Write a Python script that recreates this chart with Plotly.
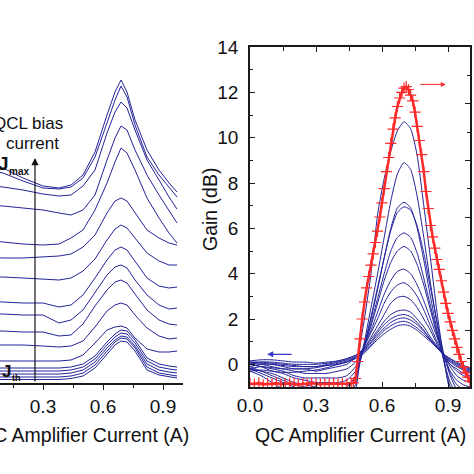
import plotly.graph_objects as go

# ---------------- Left panel (offset transmission curves, arb. units) ----------------
left_x = [0.0, 0.1, 0.2, 0.3, 0.38, 0.44, 0.5, 0.56, 0.62, 0.66, 0.69, 0.72, 0.76, 0.82, 0.88, 0.93, 0.97]
left_A = [21.8, 21.5, 20.5, 19.7, 19.5, 19.8, 20.8, 23.1, 26.8, 29.1, 30.3, 29.1, 26.3, 23.3, 21.3, 20.0, 19.1]
left_B = [21.3, 21.0, 20.2, 19.5, 19.4, 19.6, 20.5, 22.6, 26.0, 28.3, 29.7, 28.6, 25.8, 22.6, 20.8, 19.6, 18.6]
left_C = [19.8, 19.6, 19.3, 18.9, 18.7, 18.8, 19.7, 21.3, 25.0, 27.1, 28.1, 27.5, 25.3, 22.3, 20.3, 18.6, 17.4]
left_D = [17.8, 17.7, 17.5, 17.3, 17.0, 16.8, 17.3, 18.8, 22.3, 24.5, 25.7, 25.3, 23.3, 20.8, 18.8, 17.3, 16.0]
left_E = [14.3, 14.1, 13.9, 13.8, 13.9, 14.5, 15.3, 17.3, 20.0, 22.1, 23.5, 23.0, 21.3, 18.5, 16.5, 15.0, 14.0]
left_F = [12.6, 12.5, 12.5, 12.6, 12.7, 12.9, 13.6, 14.8, 17.0, 18.2, 18.5, 18.2, 17.0, 15.3, 14.5, 14.0, 13.8]
left_G = [10.6, 10.6, 10.5, 10.4, 10.3, 10.5, 11.2, 12.4, 14.3, 15.4, 15.8, 15.5, 14.5, 13.0, 12.2, 11.8, 11.8]
left_H = [8.2, 8.1, 8.0, 8.0, 7.6, 7.8, 8.8, 10.5, 12.3, 13.3, 13.6, 13.3, 12.2, 10.5, 9.7, 9.5, 9.6]
left_I = [6.9, 6.9, 6.8, 6.8, 6.0, 6.3, 7.3, 9.1, 10.8, 11.6, 11.8, 11.5, 10.3, 8.8, 7.8, 7.4, 7.5]
left_J = [5.2, 5.2, 5.1, 5.1, 4.7, 4.8, 5.9, 7.7, 9.3, 10.1, 10.3, 10.0, 8.9, 7.3, 6.3, 5.9, 5.8]
left_K = [3.8, 3.8, 3.8, 3.7, 3.6, 3.7, 4.2, 5.6, 7.2, 7.8, 8.0, 7.8, 6.8, 5.5, 4.7, 4.4, 4.5]
left_L = [2.2, 2.2, 2.2, 2.2, 2.2, 2.3, 2.8, 4.0, 5.3, 5.6, 5.7, 5.5, 4.5, 3.4, 3.1, 3.1, 3.2]
left_M1 = [1.5, 1.5, 1.5, 1.5, 1.5, 1.6, 1.9, 2.7, 4.1, 4.9, 5.3, 5.2, 4.3, 2.5, 1.9, 1.7, 1.6]
left_M2 = [1.2, 1.2, 1.2, 1.2, 1.2, 1.3, 1.6, 2.4, 3.8, 4.6, 5.0, 4.9, 4.0, 2.2, 1.6, 1.4, 1.3]
left_M3 = [0.9, 0.9, 0.9, 0.9, 0.9, 1.0, 1.3, 2.1, 3.5, 4.3, 4.7, 4.6, 3.7, 1.9, 1.3, 1.1, 1.0]
left_M4 = [0.6, 0.6, 0.6, 0.6, 0.6, 0.7, 1.0, 1.8, 3.2, 4.1, 4.5, 4.4, 3.5, 1.6, 1.0, 0.8, 0.7]
left_M5 = [0.35, 0.35, 0.35, 0.35, 0.35, 0.45, 0.7, 1.5, 2.9, 3.8, 4.2, 4.1, 3.2, 1.3, 0.8, 0.6, 0.5]
left_curves = [left_A, left_B, left_C, left_D, left_E, left_F, left_G, left_H, left_I,
               left_J, left_K, left_L, left_M1, left_M2, left_M3, left_M4, left_M5]

# ---------------- Right panel: gain (dB) ----------------
gain_x = [0.0, 0.05, 0.1, 0.15, 0.2, 0.25, 0.3, 0.35, 0.4, 0.44, 0.48, 0.5, 0.52, 0.55, 0.58,
          0.61, 0.64, 0.67, 0.7, 0.73, 0.76, 0.79, 0.82, 0.85, 0.88, 0.91, 0.94, 0.97, 1.0]
gain_1 = [-0.3, -0.5, -0.8, -1.1, -1.3, -1.4, -1.5, -1.5, -1.5, -1.5, -1.1, 0.8, 2.0, 4.0, 6.6, 8.2, 9.4, 10.3, 10.7, 10.4, 9.2, 7.0, 4.7, 2.3, 0.3, -1.2, -1.6, -1.6, -1.6]
gain_2 = [-0.2, -0.4, -0.6, -0.8, -1.0, -1.2, -1.3, -1.4, -1.4, -1.3, -0.9, 0.1, 1.0, 2.5, 4.0, 5.6, 7.2, 8.4, 8.9, 8.6, 7.4, 5.6, 3.6, 1.8, 0.2, -1.0, -1.5, -1.5, -1.5]
gain_3 = [-0.2, -0.3, -0.5, -0.7, -0.9, -1.0, -1.1, -1.2, -1.2, -1.1, -0.6, 0.1, 0.8, 2.0, 3.3, 4.7, 6.0, 6.9, 7.15, 6.9, 6.0, 4.6, 3.0, 1.5, 0.2, -0.8, -1.3, -1.4, -1.4]
gain_4 = [-0.1, -0.3, -0.4, -0.6, -0.8, -0.9, -1.0, -1.1, -1.1, -1.0, -0.5, 0.2, 0.9, 2.1, 3.4, 4.7, 5.9, 6.7, 6.95, 6.8, 6.1, 4.9, 3.4, 1.9, 0.5, -0.5, -1.1, -1.3, -1.3]
gain_5 = [0.0, -0.1, -0.3, -0.4, -0.6, -0.7, -0.8, -0.8, -0.8, -0.7, -0.3, 0.2, 0.8, 1.8, 2.9, 4.0, 5.0, 5.6, 5.8, 5.6, 4.9, 3.8, 2.6, 1.4, 0.4, -0.4, -0.9, -1.1, -1.1]
gain_6 = [0.0, -0.1, -0.2, -0.3, -0.5, -0.6, -0.6, -0.6, -0.6, -0.5, -0.1, 0.3, 0.8, 1.7, 2.7, 3.7, 4.5, 5.0, 5.2, 5.0, 4.4, 3.5, 2.4, 1.3, 0.4, -0.3, -0.7, -0.9, -1.0]
gain_7 = [0.05, 0.0, -0.1, -0.2, -0.3, -0.4, -0.4, -0.4, -0.3, -0.2, 0.1, 0.4, 0.8, 1.5, 2.3, 3.1, 3.7, 4.1, 4.2, 4.0, 3.5, 2.8, 2.0, 1.2, 0.4, -0.1, -0.5, -0.7, -0.8]
gain_8 = [0.1, 0.05, 0.0, -0.1, -0.2, -0.2, -0.3, -0.2, -0.1, 0.0, 0.3, 0.5, 0.8, 1.4, 2.0, 2.7, 3.2, 3.5, 3.6, 3.4, 3.0, 2.4, 1.7, 1.0, 0.4, 0.0, -0.3, -0.5, -0.6]
gain_9 = [0.1, 0.1, 0.05, 0.0, -0.05, -0.1, -0.1, -0.05, 0.0, 0.1, 0.3, 0.5, 0.7, 1.2, 1.7, 2.2, 2.7, 2.95, 3.0, 2.85, 2.5, 2.0, 1.5, 0.9, 0.4, 0.0, -0.2, -0.4, -0.5]
gain_10 = [0.15, 0.2, 0.2, 0.15, 0.1, 0.1, 0.05, 0.1, 0.15, 0.25, 0.4, 0.55, 0.7, 1.1, 1.5, 1.9, 2.2, 2.35, 2.4, 2.3, 2.0, 1.65, 1.2, 0.8, 0.4, 0.1, -0.1, -0.25, -0.35]
gain_11 = [0.0, 0.1, 0.1, 0.05, 0.0, 0.0, 0.0, 0.05, 0.15, 0.25, 0.4, 0.5, 0.65, 1.0, 1.4, 1.75, 2.0, 2.15, 2.2, 2.1, 1.85, 1.5, 1.1, 0.75, 0.4, 0.15, -0.05, -0.2, -0.3]
gain_12 = [-0.1, 0.0, 0.0, -0.05, -0.1, -0.1, -0.1, 0.0, 0.1, 0.2, 0.35, 0.45, 0.6, 0.95, 1.3, 1.6, 1.85, 2.0, 2.05, 1.95, 1.75, 1.45, 1.1, 0.75, 0.45, 0.2, 0.0, -0.15, -0.25]
gain_13 = [-0.2, -0.1, -0.15, -0.2, -0.2, -0.2, -0.15, -0.05, 0.05, 0.15, 0.3, 0.4, 0.55, 0.85, 1.2, 1.5, 1.7, 1.85, 1.9, 1.8, 1.6, 1.35, 1.05, 0.75, 0.45, 0.25, 0.05, -0.1, -0.2]
gain_14 = [-0.3, -0.25, -0.3, -0.35, -0.35, -0.3, -0.25, -0.15, 0.0, 0.1, 0.25, 0.35, 0.5, 0.8, 1.1, 1.35, 1.55, 1.7, 1.75, 1.68, 1.5, 1.25, 1.0, 0.72, 0.45, 0.25, 0.1, -0.05, -0.15]
gain_curves = [gain_1, gain_2, gain_3, gain_4, gain_5, gain_6, gain_7, gain_8, gain_9,
               gain_10, gain_11, gain_12, gain_13, gain_14]

# Red trace (right axis)
red_x = [0.00, 0.02, 0.04, 0.06, 0.08, 0.10, 0.12, 0.14, 0.16, 0.18, 0.20, 0.22, 0.24, 0.26,
         0.28, 0.30, 0.32, 0.34, 0.36, 0.38, 0.40, 0.42, 0.44, 0.46,
         0.47, 0.48, 0.49, 0.50, 0.51, 0.52, 0.53, 0.54, 0.55, 0.56, 0.57, 0.58, 0.59, 0.60,
         0.61, 0.62, 0.63, 0.64, 0.65, 0.66, 0.67, 0.68, 0.69, 0.70, 0.71, 0.72, 0.73, 0.74,
         0.75, 0.76, 0.77, 0.78, 0.79, 0.80, 0.81, 0.82, 0.83, 0.84, 0.85, 0.86, 0.87, 0.88,
         0.89, 0.90, 0.91, 0.92, 0.93, 0.94, 0.95, 0.96, 0.97, 0.98, 0.99, 1.00]
red_y = [0.12, 0.10, 0.15, 0.08, 0.12, 0.10, 0.14, 0.09, 0.11, 0.13, 0.10, 0.08, 0.12, 0.10,
         0.15, 0.11, 0.09, 0.12, 0.10, 0.13, 0.10, 0.12, 0.11, 0.14,
         0.15, 0.3, 0.9, 1.7, 2.4, 3.0, 3.5, 3.9, 4.3, 4.7, 5.1, 5.5, 6.0, 6.5,
         7.0, 7.6, 8.1, 8.6, 9.1, 9.5, 9.9, 10.2, 10.4, 10.55, 10.6, 10.5, 10.3, 10.1,
         9.7, 9.2, 8.7, 8.2, 7.6, 6.9, 6.3, 5.7, 5.3, 4.9, 4.5, 4.15, 3.75, 3.35,
         2.95, 2.6, 2.3, 2.0, 1.7, 1.4, 1.15, 0.9, 0.7, 0.5, 0.35, 0.2]

BLUE = "#23239a"
RED = "#ff2a2a"
FONT = "Liberation Sans, Arial, sans-serif"

fig = go.Figure()

for ys in left_curves:
    fig.add_trace(go.Scatter(x=left_x, y=ys, mode="lines", xaxis="x", yaxis="y",
                             line=dict(color=BLUE, width=1), hoverinfo="skip"))

fig.add_trace(go.Scatter(x=red_x, y=red_y, mode="lines+markers", xaxis="x2", yaxis="y3",
                         line=dict(color=RED, width=2.5),
                         marker=dict(symbol="cross-thin", size=8,
                                     line=dict(color=RED, width=1.2)),
                         hoverinfo="skip"))

for ys in gain_curves:
    fig.add_trace(go.Scatter(x=gain_x, y=ys, mode="lines", xaxis="x2", yaxis="y2",
                             line=dict(color=BLUE, width=1, shape="spline", smoothing=0.6),
                             hoverinfo="skip"))

axis_common = dict(showgrid=False, zeroline=False, showline=True, linecolor="#1a1a1a",
                   linewidth=1.5, tickcolor="#1a1a1a", automargin=False,
                   tickfont=dict(family=FONT, size=19, color="#111"))

fig.update_layout(
    width=474, height=474,
    margin=dict(l=0, r=0, t=47, b=87, pad=0, autoexpand=False),
    paper_bgcolor="white", plot_bgcolor="white",
    showlegend=False,
    font=dict(family=FONT, size=19, color="#111"),
    xaxis=dict(domain=[0, 183 / 474], range=[0.085, 1.0], anchor="y",
               tick0=0, dtick=0.3, tickformat=".1f", ticks="outside", ticklen=5,
               minor=dict(dtick=0.15, tick0=0, ticks="outside", ticklen=3, tickcolor="#1a1a1a"),
               **axis_common),
    yaxis=dict(domain=[4 / 340, 1], range=[0, 33.6], anchor="x", visible=False),
    xaxis2=dict(domain=[250 / 474, 470 / 474], range=[0, 1.0], anchor="y2",
                tick0=0, dtick=0.3, tickformat=".1f", ticks="inside", ticklen=5, mirror="ticks",
                minor=dict(dtick=0.15, tick0=0, ticks="inside", ticklen=4, tickcolor="#1a1a1a"),
                **axis_common),
    yaxis2=dict(domain=[0, 1], range=[-1, 14], anchor="x2", tick0=0, dtick=2,
                ticks="inside", ticklen=5, ticklabelstandoff=6,
                minor=dict(dtick=1, tick0=0, ticks="inside", ticklen=3, tickcolor="#1a1a1a"),
                **axis_common),
    yaxis3=dict(overlaying="y2", side="right", anchor="x2", range=[0, 12], tick0=0, dtick=2,
                ticks="inside", ticklen=5, showticklabels=False,
                minor=dict(dtick=1, tick0=0, ticks="inside", ticklen=3, tickcolor="#1a1a1a"),
                **axis_common),
)

annotations = [
    dict(text="QC Amplifier Current (A)", x=0.5, xref="x", y=(387 - 435) / 340, yref="paper",
         showarrow=False, xanchor="center", yanchor="middle", font=dict(size=19.5)),
    dict(text="QC Amplifier Current (A)", x=0.5, xref="x2", y=(387 - 435) / 340, yref="paper",
         showarrow=False, xanchor="center", yanchor="middle", font=dict(size=19.5)),
    dict(text="Gain (dB)", x=210 / 474, xref="paper", y=(387 - 210) / 340, yref="paper",
         showarrow=False, textangle=-90, xanchor="center", yanchor="middle", font=dict(size=19.5)),
    dict(text="QCL bias", x=0.41, xref="x", y=26.0, yref="y", showarrow=False,
         xanchor="right", yanchor="middle", font=dict(size=17)),
    dict(text="current", x=0.245, xref="x", y=24.0, yref="y", showarrow=False,
         xanchor="center", yanchor="middle", font=dict(size=17)),
    dict(text="<b>J</b>", x=0.14, xref="x", y=22.0, yref="y", showarrow=False,
         xanchor="right", yanchor="middle", font=dict(size=19)),
    dict(text="<b>max</b>", x=0.12, xref="x", y=21.2, yref="y", showarrow=False,
         xanchor="left", yanchor="middle", font=dict(size=10)),
    dict(text="<b>J</b>", x=0.15, xref="x", y=1.2, yref="y", showarrow=False,
         xanchor="right", yanchor="middle", font=dict(size=17)),
    dict(text="<b>th</b>", x=0.135, xref="x", y=0.55, yref="y", showarrow=False,
         xanchor="left", yanchor="middle", font=dict(size=9)),
    dict(text="", x=0.26, y=22.5, xref="x", yref="y", ax=0.26, ay=0.0, axref="x", ayref="y",
         showarrow=True, arrowhead=2, arrowsize=1.2, arrowwidth=1.2, arrowcolor="#111", standoff=0),
    dict(text="", x=0.078, y=0.44, xref="x2", yref="y2", ax=0.196, ay=0.44, axref="x2", ayref="y2",
         showarrow=True, arrowhead=2, arrowsize=1, arrowwidth=1.2, arrowcolor="#3535c8", standoff=0),
    dict(text="", x=0.89, y=12.35, xref="x2", yref="y2", ax=0.767, ay=12.35, axref="x2", ayref="y2",
         showarrow=True, arrowhead=2, arrowsize=1, arrowwidth=1, arrowcolor=RED, standoff=0),
]
fig.update_layout(annotations=annotations)

fig.write_html("out.html")
